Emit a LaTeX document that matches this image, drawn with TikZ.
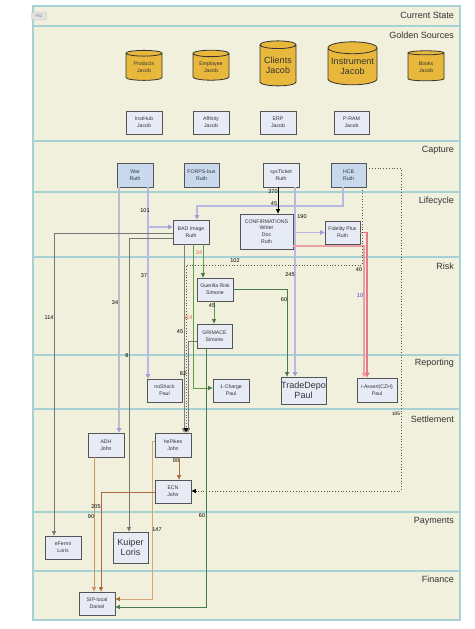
\documentclass[tikz,border=0pt]{standalone}
\usepackage{fontspec}
\setmainfont{Liberation Sans}
\usetikzlibrary{arrows.meta,shapes.geometric,calc}
\definecolor{cream}{HTML}{F0F0DC}
\definecolor{lanec}{HTML}{A6D2D6}
\definecolor{gold}{HTML}{E8B83C}
\definecolor{boxfill}{HTML}{E7EBF5}
\definecolor{capfill}{HTML}{C8D9EE}
\definecolor{boxline}{HTML}{555555}
\definecolor{lavL}{HTML}{B8B8E2}
\definecolor{lavA}{HTML}{9E9EDA}
\definecolor{grayW}{HTML}{BDBDCC}
\definecolor{grayL}{HTML}{777777}
\definecolor{grnL}{HTML}{5C9C4C}
\definecolor{grnD}{HTML}{4A7A4A}
\definecolor{pinkL}{HTML}{EBA0A8}
\definecolor{pinkD}{HTML}{E27A8A}
\definecolor{brnL}{HTML}{B0683A}
\definecolor{tanL}{HTML}{D3A57A}
\definecolor{redL}{HTML}{E36A50}
\definecolor{blueL}{HTML}{3A3AC8}
\definecolor{txt}{HTML}{333333}
\definecolor{tagc}{HTML}{E2E2E2}
\tikzset{
  sbox/.style={draw=boxline, line width=0.8pt, fill=boxfill, inner sep=0pt, align=center, text=txt,
    font=\fontsize{5.2}{6.8}\selectfont, minimum width=36pt, minimum height=24pt},
  cbox/.style={sbox, fill=capfill},
  bigtxt/.style={font=\fontsize{9}{10.5}\selectfont},
  cyl/.style={cylinder, shape border rotate=90, aspect=0.28, draw=txt, line width=0.8pt, fill=gold,
    inner sep=0pt, align=center, text=txt, font=\fontsize{5.2}{6.8}\selectfont,
    minimum width=36pt, minimum height=30pt},
  lanebox/.style={fill=cream, draw=lanec, line width=1.1pt},
  lanelbl/.style={anchor=east, font=\fontsize{9}{10}\selectfont, text=txt, inner sep=0pt},
  elbl/.style={font=\fontsize{5.5}{6}\selectfont, inner sep=0.3pt, text=black},
  conn/.style={line width=0.8pt, -{Triangle[length=4.5pt,width=4pt]}},
  lavc/.style={conn, draw=lavL, line width=1.3pt, -{Triangle[length=4.5pt,width=4.5pt,color=lavA]}},
  grayw/.style={conn, draw=grayW, line width=1.6pt, -{Triangle[length=4.5pt,width=4.5pt,color=lavA]}},
  grayc/.style={conn, draw=grayL},
  grnc/.style={conn, draw=grnL, -{Triangle[length=4.5pt,width=4pt,color=grnD]}},
  dgrnc/.style={conn, draw=grnD},
  pinkc/.style={conn, draw=pinkL, line width=1.2pt},
  pinkd/.style={conn, draw=pinkD, line width=1.4pt, -{Triangle[length=5pt,width=5pt,color=pinkD]}},
  blkc/.style={conn, draw=black},
  dotc/.style={conn, draw=boxline, dotted, line width=0.8pt, -{Triangle[length=4.5pt,width=4pt,color=black]}},
  brnc/.style={conn, draw=brnL},
  tanc/.style={conn, draw=tanL, -{Triangle[length=4.5pt,width=4pt,color=brnL]}},
}
\begin{document}
\begin{tikzpicture}[x=1pt,y=-1pt]
\useasboundingbox (0,0) rectangle (474,629);
\fill[white] (0,0) rectangle (474,629);
% lanes
\foreach \a/\b in {6/26,26/141,141/192,192/257,257/355,355/409,409/512,512/571,571/620}
  \draw[lanebox] (33,\a) rectangle (460,\b);
\node[lanelbl] (lCur) at (454,15) {Current State};
\node[lanelbl] (lGold) at (454,35) {Golden Sources};
\node[lanelbl] (lCap) at (454,150) {Capture};
\node[lanelbl] (lLife) at (454,201) {Lifecycle};
\node[lanelbl] (lRisk) at (454,266) {Risk};
\node[lanelbl] (lRep) at (454,363) {Reporting};
\node[lanelbl] (lSet) at (454,419) {Settlement};
\node[lanelbl] (lPay) at (454,521) {Payments};
\node[lanelbl] (lFin) at (454,579) {Finance};
\node[draw=lightgray, fill=tagc, rounded corners=2pt, minimum width=15pt, minimum height=8pt, inner sep=0pt,
  font=\fontsize{4.5}{5}\selectfont, text=gray] (tag0) at (39,16) {\%0};

% golden sources
\node[cyl] (prod) at (144,67) {Products\\Jacob};
\node[cyl] (empl) at (211,67) {Employee\\Jacob};
\node[cyl, bigtxt, minimum height=45pt] (clie) at (278,65.5) {Clients\\Jacob};
\node[cyl, bigtxt, minimum width=49pt, minimum height=43pt] (inst) at (352.5,66.5) {Instrument\\Jacob};
\node[cyl] (book) at (426,67) {Books\\Jacob};
\node[sbox, minimum height=23pt] (insth) at (144,122.5) {InstHub\\Jacob};
\node[sbox, minimum height=23pt] (affi) at (211,122.5) {Affinity\\Jacob};
\node[sbox, minimum height=23pt] (erp) at (278,122.5) {ERP\\Jacob};
\node[sbox, minimum height=23pt, minimum width=35pt] (pram) at (351.5,122.5) {P-RAM\\Jacob};

% capture
\node[cbox] (war) at (135,175) {War\\Ruth};
\node[cbox, minimum width=35pt] (forps) at (201.5,175) {FORPS-bus\\Ruth};
\node[sbox] (sys) at (281,175) {sysTicket\\Ruth};
\node[cbox, minimum width=35pt] (hcb) at (348.5,175) {HCB\\Ruth};

% lifecycle
\node[sbox] (bad) at (191,232) {BAD Image\\Ruth};
\node[sbox, minimum width=53pt, minimum height=35pt] (conf) at (266.5,231.5) {CONFIRMATIONS\\Writer\\Doc\\Ruth};
\node[sbox, minimum width=35pt, minimum height=23pt] (fid) at (342.5,232.5) {Fidelity Plus\\Ruth};

% risk
\node[sbox, minimum height=23pt] (guer) at (215,289.5) {Guerilla Risk\\Simone};
\node[sbox, minimum width=35pt] (gri) at (214.5,336) {GRIMACE\\Simone};

% reporting
\node[sbox, minimum width=35pt, minimum height=23pt] (nosh) at (164.5,390.5) {noShock\\Paul};
\node[sbox, minimum height=23pt] (onec) at (231,390.5) {1-Charge\\Paul};
\node[sbox, bigtxt, minimum width=45pt, minimum height=27pt] (trade) at (303.5,390.5) {TradeDepo\\Paul};
\node[sbox, minimum width=40pt] (iass) at (377,390) {i-Assert(CZH)\\Paul};

% settlement
\node[sbox] (adh) at (106,445) {ADH\\John};
\node[sbox] (hep) at (173,445) {hePikes\\John};
\node[sbox, minimum height=23pt] (ecn) at (173,491.5) {ECN\\John};

% payments
\node[sbox, minimum height=23pt] (efer) at (63,547.5) {eFermi\\Loris};
\node[sbox, bigtxt, minimum width=35pt, minimum height=31pt] (kuip) at (130.5,547.5) {Kuiper\\Loris};

% finance
\node[sbox, minimum height=23pt] (sip) at (97,603.5) {SIP-local\\Daniel};

% helper coordinates
\foreach \c in {54,94,101,119,129,148,152,179,184,186,188,193,197,203,206,214,278,287,295,343,362,364,367,401}
  \coordinate (x\c) at (\c,0);
\foreach \r in {168,206,227,233,238,246,265,341,388,441,491,492,599,607}
  \coordinate (y\r) at (0,\r);

% connectors
\draw[grayw] (war.south -| x119) -- (adh.north -| x119);
\draw[lavc] (war.south -| x148) |- (bad.west |- y227);
\draw[lavc] (war.south -| x148) -- (nosh.north -| x148);
\draw[grayc] (bad.west |- y233) -| (efer.north -| x54);
\draw[grayc] (bad.west |- y238) -| (kuip.north -| x129);
\draw[grayc, draw=gray] (bad.south -| x184) -- (hep.north -| x184);
\draw[grnc] (bad.south -| x203) -- (guer.north -| x203);
\draw[grnc] (bad.south -| x193) |- (onec.west |- y388);
\draw[lavc] (hcb.south -| x343) |- (y206 -| x197) -- (bad.north -| x197);
\draw[blkc] (sys.south -| x278) -- (conf.north -| x278);
\draw[lavc] (sys.south -| x295) |- (fid.west);
\draw[lavc] (sys.south -| x295) -- (trade.north -| x295);
\draw[pinkc] (conf.east |- y246) -| (iass.north -| x364);
\draw[pinkd] (fid.east) -| (iass.north -| x367);
\draw[dgrnc] (guer.east) -| (trade.north -| x287);
\draw[grnc] (guer.south -| x214) -- (gri.north -| x214);
\draw[grayc] (gri.west |- y341) -| (hep.north -| x188);
\draw[dgrnc] (gri.south -| x206) |- (sip.east |- y607);
\draw[dotc] (hcb.south -| x362) |- (y265 -| x186) -- (hep.north -| x186);
\draw[dotc] (hcb.east |- y168) -| (y491 -| x401) -- (ecn.east |- y491);
\draw[brnc] (hep.south -| x179) -- (ecn.north -| x179);
\draw[tanc] (hep.west |- y441) -- (x152 |- y441) -- (x152 |- y599) -- (sip.east |- y599);
\draw[brnc] (ecn.west |- y492) -| (sip.north -| x101);
\draw[brnc, draw=tanL!70!brnL] (adh.south -| x94) -- (sip.north -| x94);

% connector labels
\node[elbl] (e101) at (145,211) {101};
\node[elbl] (e34a) at (115,303) {34};
\node[elbl] (e37) at (144,276) {37};
\node[elbl] (e114) at (49,318) {114};
\node[elbl] (e8) at (127,356) {8};
\node[elbl, text=redL] (e34b) at (199,253) {34};
\node[elbl, text=redL] (e114b) at (188,318) {114};
\node[elbl] (e45a) at (180,332) {45};
\node[elbl] (e82) at (183,374) {82};
\node[elbl] (e45b) at (212,306) {45};
\node[elbl] (e60a) at (284,300) {60};
\node[elbl] (e370) at (273,192) {370};
\node[elbl] (e45c) at (274,204) {45};
\node[elbl] (e190) at (302,217) {190};
\node[elbl] (e245) at (290,275) {245};
\node[elbl] (e102) at (235,261) {102};
\node[elbl] (e40) at (359,270) {40};
\node[elbl, text=blueL] (e10) at (360,296) {10};
\node[elbl, font=\fontsize{4.8}{5}\selectfont] (e105) at (396,414) {105};
\node[elbl] (e90a) at (176,461) {90};
\node[elbl] (e205) at (96,507) {205};
\node[elbl] (e90b) at (91,517) {90};
\node[elbl] (e60b) at (202,516) {60};
\node[elbl] (e147) at (157,530) {147};
\end{tikzpicture}
\end{document}
